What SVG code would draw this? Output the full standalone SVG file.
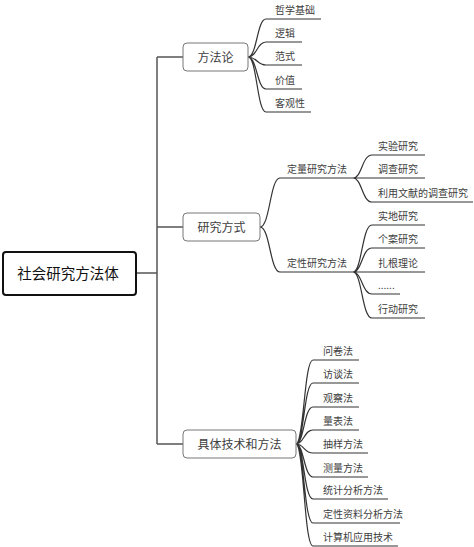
<svg xmlns="http://www.w3.org/2000/svg" width="474" height="547" viewBox="0 0 474 547">
<style>
text{font-family:"Noto Sans CJK SC","Noto Sans",sans-serif;fill:#404040}
.leaf{font-size:10px}
.sub{font-size:12px;text-anchor:middle}
.root{font-size:14.5px;text-anchor:middle;fill:#111}
.box{fill:#fff;stroke:#777;stroke-width:1}
.rootbox{fill:#fff;stroke:#111;stroke-width:2}
.c{fill:none;stroke:#333;stroke-width:1.2}
.t{fill:none;stroke:#555;stroke-width:1.5}
</style>
<rect width="474" height="547" fill="#fff"/>
<g id="connectors">
<path class="t" d="M136 273 H157 M157 57 V444 M157 57 H183 M157 227 H183 M157 444 H183"/>
<path class="c" d="M248 57 C257 57 257 19 266 19 H321 M248 57 C257 57 257 42 266 42 H302 M248 57 C257 57 257 65 266 65 H302 M248 57 C257 57 257 89 266 89 H302 M248 57 C257 57 257 112 266 112 H311"/>
<path class="c" d="M260 227 C270 227 270 178 280 178 H353 M260 227 C270 227 270 272 280 272 H353"/>
<path class="c" d="M353 178 C362 178 362 155 372 155 H425 M353 178 H425 M353 178 C362 178 362 202 372 202 H473"/>
<path class="c" d="M353 272 C362 272 362 225 372 225 H425 M353 272 C362 272 362 248 372 248 H425 M353 272 H425 M353 272 C362 272 362 294 372 294 H400 M353 272 C362 272 362 318 372 318 H425"/>
<path class="c" d="M296 444 C304 444 304 360 313 360 H359 M296 444 C304 444 304 383 313 383 H359 M296 444 C304 444 304 407 313 407 H359 M296 444 C304 444 304 430 313 430 H359 M296 444 C304 444 304 453 313 453 H368 M296 444 C304 444 304 477 313 477 H368 M296 444 C304 444 304 499 313 499 H388 M296 444 C304 444 304 523 313 523 H400 M296 444 C304 444 304 546 313 546 H398"/>
</g>
<g id="root"><rect class="rootbox" x="3" y="252" width="133" height="43" rx="3"/><text class="root" x="68" y="279">社会研究方法体</text></g>
<g id="n-fangfalun"><rect class="box" x="183" y="43" width="65" height="28" rx="4"/><text class="sub" x="215.5" y="61.5">方法论</text></g>
<g id="n-yanjiufangshi"><rect class="box" x="183" y="213" width="77" height="28" rx="4"/><text class="sub" x="221.5" y="231.5">研究方式</text></g>
<g id="n-juti"><rect class="box" x="183" y="430" width="113" height="28" rx="4"/><text class="sub" x="239.5" y="448.5">具体技术和方法</text></g>
<g id="l1"><text class="leaf" x="275" y="14">哲学基础</text></g>
<g id="l2"><text class="leaf" x="275" y="37">逻辑</text></g>
<g id="l3"><text class="leaf" x="275" y="60">范式</text></g>
<g id="l4"><text class="leaf" x="275" y="84">价值</text></g>
<g id="l5"><text class="leaf" x="275" y="107">客观性</text></g>
<g id="dl"><text class="leaf" x="287" y="173">定量研究方法</text></g>
<g id="dx"><text class="leaf" x="287" y="267">定性研究方法</text></g>
<g id="q1"><text class="leaf" x="378" y="150">实验研究</text></g>
<g id="q2"><text class="leaf" x="378" y="173">调查研究</text></g>
<g id="q3"><text class="leaf" x="378" y="197">利用文献的调查研究</text></g>
<g id="x1"><text class="leaf" x="378" y="220">实地研究</text></g>
<g id="x2"><text class="leaf" x="378" y="243">个案研究</text></g>
<g id="x3"><text class="leaf" x="378" y="267">扎根理论</text></g>
<g id="x4"><text class="leaf" x="378" y="289">......</text></g>
<g id="x5"><text class="leaf" x="378" y="313">行动研究</text></g>
<g id="j1"><text class="leaf" x="323" y="355">问卷法</text></g>
<g id="j2"><text class="leaf" x="323" y="378">访谈法</text></g>
<g id="j3"><text class="leaf" x="323" y="402">观察法</text></g>
<g id="j4"><text class="leaf" x="323" y="425">量表法</text></g>
<g id="j5"><text class="leaf" x="323" y="448">抽样方法</text></g>
<g id="j6"><text class="leaf" x="323" y="472">测量方法</text></g>
<g id="j7"><text class="leaf" x="323" y="494">统计分析方法</text></g>
<g id="j8"><text class="leaf" x="323" y="518">定性资料分析方法</text></g>
<g id="j9"><text class="leaf" x="323" y="541">计算机应用技术</text></g>
</svg>
